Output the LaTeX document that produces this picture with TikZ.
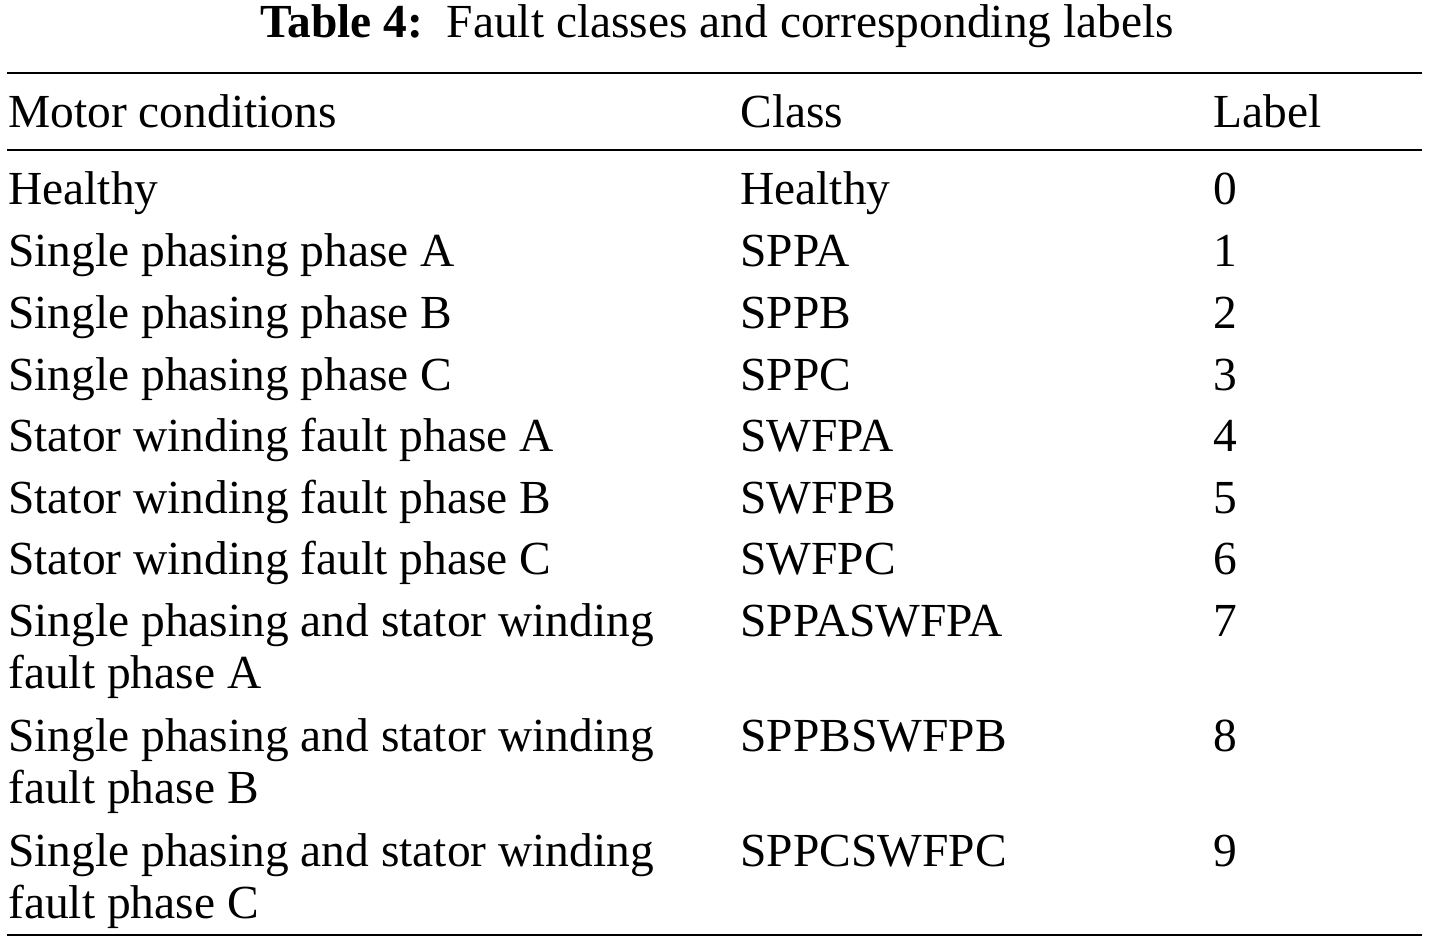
\documentclass[tikz,border=0pt]{standalone}
\usepackage{fontspec}
\setmainfont{Liberation Serif}
\usetikzlibrary{positioning}
\tikzset{
  cell/.style={anchor=base west, inner sep=0pt, font=\fontsize{27}{32}\selectfont},
  rule/.style={line width=1.6pt},
  midrule/.style={line width=1pt}
}
\begin{document}
\begin{tikzpicture}[x=0.02cm, y=-0.02cm]
  \useasboundingbox (0,0) rectangle (1429,942);
  % Caption
  \node [anchor=base, inner sep=0pt, font=\fontsize{27}{32}\selectfont] (title) at (717,38) {\textbf{Table 4:}\ \ Fault classes and corresponding labels};
  % Rules
  \coordinate (tl) at (7,73);  \coordinate (tr) at (1422,73);
  \coordinate (ml) at (7,150); \coordinate (mr) at (1422,150);
  \coordinate (bl) at (7,935); \coordinate (br) at (1422,935);
  \draw [rule] (tl) -- (tr);
  \draw [midrule] (ml) -- (mr);
  \draw [rule] (bl) -- (br);
  % Header
  \node [cell] (hcond) at (8,128) {Motor conditions};
  \node [cell] (hclass) at (740,128) {Class};
  \node [cell] (hlabel) at (1213,128) {Label};
  % Single-line rows
  \foreach \y/\cond/\cls/\lab [count=\i] in {
      205/Healthy/Healthy/0,
      267/Single phasing phase A/SPPA/1,
      329/Single phasing phase B/SPPB/2,
      390/Single phasing phase C/SPPC/3,
      451/Stator winding fault phase A/SWFPA/4,
      513/Stator winding fault phase B/SWFPB/5,
      574/Stator winding fault phase C/SWFPC/6} {
    \node [cell] (cond\i) at (8,\y) {\cond};
    \node [cell] (class\i) at (740,\y) {\cls};
    \node [cell] (label\i) at (1213,\y) {\lab};
  }
  % Two-line rows
  \foreach \y/\ph/\lab in {636/A/7, 751/B/8, 866/C/9} {
    \node [cell] (cond\lab) at (8,\y) {Single phasing and stator winding};
    \node [cell] (condb\lab) at (8,\y+52) {fault phase \ph};
    \node [cell] (class\lab) at (740,\y) {SPP\ph SWFP\ph};
    \node [cell] (label\lab) at (1213,\y) {\lab};
  }
\end{tikzpicture}
\end{document}
